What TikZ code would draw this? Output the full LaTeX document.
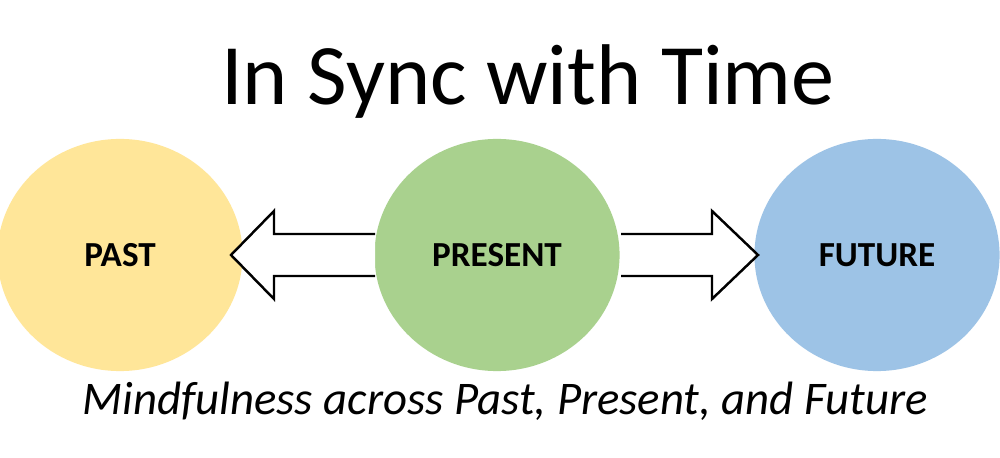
\documentclass[tikz,border=0pt]{standalone}
\usepackage{fontspec}
\setmainfont{Carlito}
\usetikzlibrary{shapes.geometric}
\begin{document}
\begin{tikzpicture}[x=0.01cm,y=-0.01cm,
  circ/.style={ellipse,minimum width=2.45cm,minimum height=2.32cm,inner sep=0pt,font=\bfseries\fontsize{10}{12}\selectfont},
  arr/.style={draw=black,fill=white,line width=0.7pt,line join=miter}]
\useasboundingbox (0,0) rectangle (1000,458);
\fill[white] (0,0) rectangle (1000,458);
\node[font=\fontsize{24.5}{28}\selectfont] (title) at (528,82) {In Sync with Time};
\node[circ,fill={rgb,255:red,255;green,230;blue,153}] (past) at (120,255) {PAST};
\node[circ,fill={rgb,255:red,169;green,209;blue,142}] (present) at (497,255) {PRESENT};
\node[circ,fill={rgb,255:red,157;green,195;blue,230}] (future) at (877,255) {FUTURE};
\draw[arr] (375,234) -- (274,234) -- (274,211) -- (231,255) -- (274,299) -- (274,276) -- (375,276);
\draw[arr] (621,234) -- (712,234) -- (712,211) -- (758,255) -- (712,299) -- (712,276) -- (621,276);
\node[font=\itshape\fontsize{13.3}{16}\selectfont] (sub) at (505,401) {Mindfulness across Past, Present, and Future};
\end{tikzpicture}
\end{document}
